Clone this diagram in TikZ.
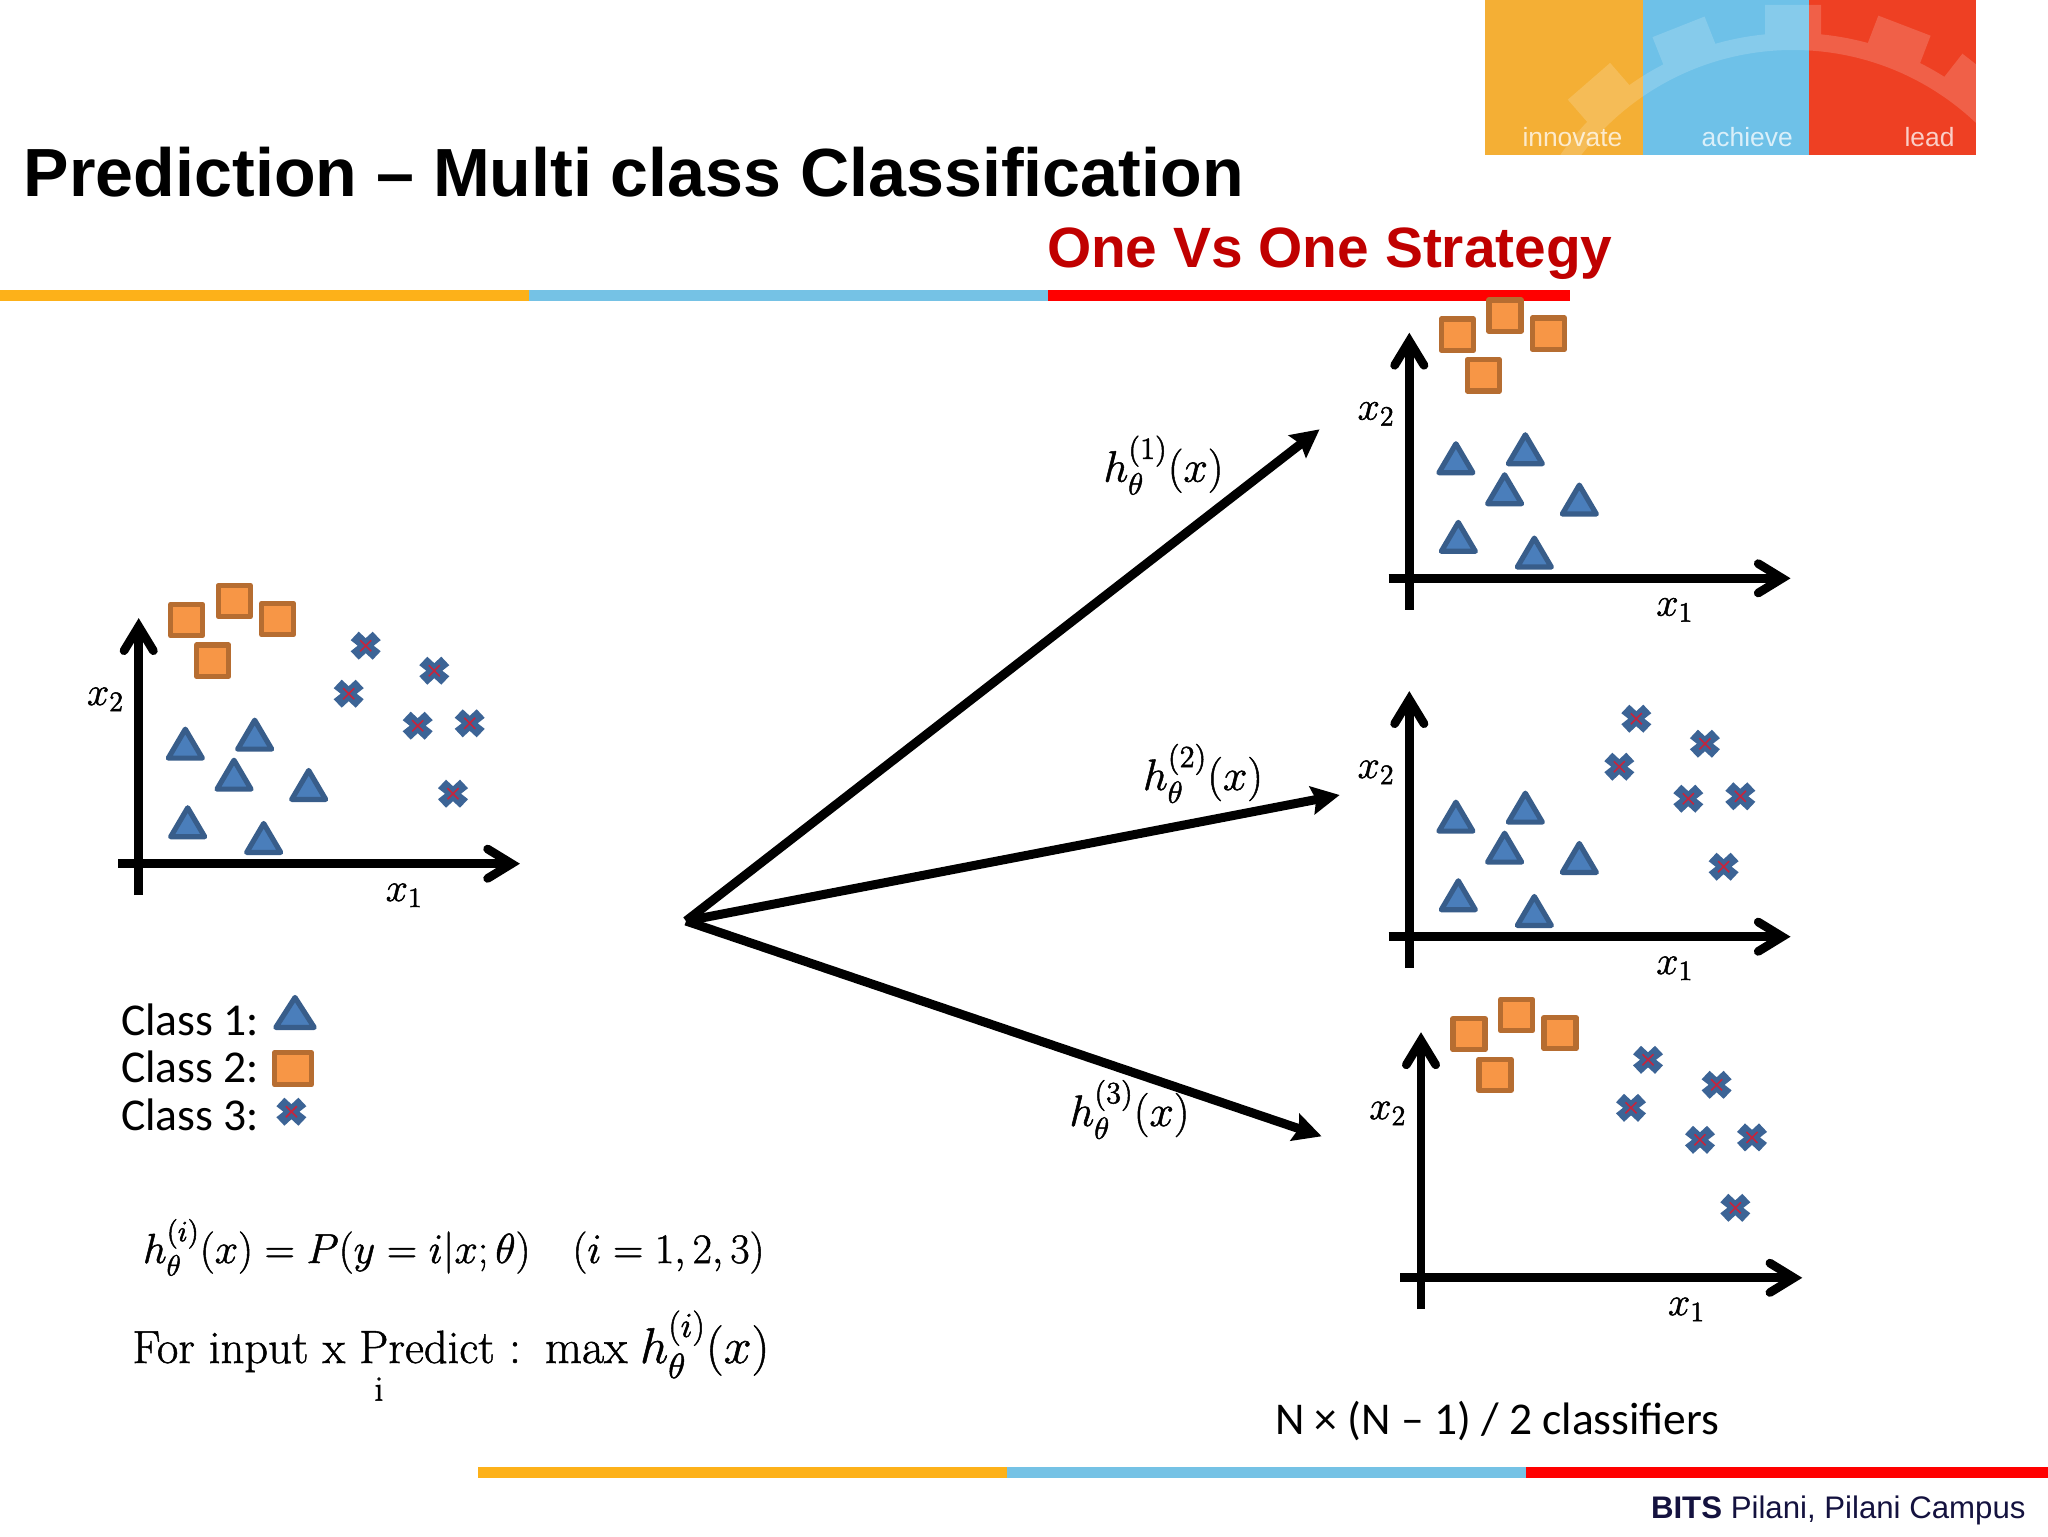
\RequirePackage{fix-cm}
\documentclass[tikz,border=0pt]{standalone}
\usepackage{fontspec}
\usepackage{amsmath}
\usetikzlibrary{arrows.meta}
\newfontfamily\arialf{Liberation Sans}
\newfontfamily\calibrif{Carlito}
\definecolor{barorange}{HTML}{FDB119}
\definecolor{barblue}{HTML}{75C2E5}
\definecolor{barred}{HTML}{FF0000}
\definecolor{logoorange}{HTML}{F4AF35}
\definecolor{logoblue}{HTML}{6EC1E8}
\definecolor{logored}{HTML}{EE4023}
\definecolor{trifill}{HTML}{4A7EBB}
\definecolor{tristroke}{HTML}{385D8A}
\definecolor{sqfill}{HTML}{F79646}
\definecolor{sqstroke}{HTML}{B66D31}
\definecolor{crossfill}{HTML}{3C6496}
\definecolor{crossmark}{HTML}{C6243C}
\definecolor{strategyred}{HTML}{C00000}
\definecolor{footnavy}{HTML}{14123F}
\newcommand{\heavy}[1]{\special{pdf:code q 2 Tr 0.25 w}#1\special{pdf:code Q}}
\tikzset{
  txt/.style={inner sep=0pt,outer sep=0pt,anchor=base west},
  axisline/.style={line width=4.35pt,black},
  axishead/.style={line width=4.35pt,black,line cap=round,line join=miter},
  bigarrow/.style={line width=4.5pt,black,-{Stealth[length=14pt,width=14pt,inset=2pt]}},
  trimark/.style={fill=trifill,draw=tristroke,line width=2.6pt,line join=round},
  sqmark/.style={fill=sqfill,draw=sqstroke,line width=2.7pt,line join=round},
  crossmarkshape/.style={fill=crossfill},
  crossline/.style={draw=crossmark,line width=.8pt},
  axislabel/.style={txt,font=\fontsize{20}{24}\selectfont},
  hlabel/.style={txt,font=\fontsize{22}{26}\selectfont},
  classtext/.style={txt,font=\calibrif\fontsize{22.8}{27}\selectfont},
  logotext/.style={txt,font=\arialf\fontsize{13.2}{15}\selectfont,text=white,text opacity=.75},
}
\newcommand{\tria}[2]{\begin{scope}[shift={(#1,#2)}]
  \draw[trimark] (0,-31.5) -- (17,-2.6) -- (-17,-2.6) -- cycle;\end{scope}}
\newcommand{\squa}[2]{\begin{scope}[shift={(#1,#2)}]
  \draw[sqmark] (-16,-15.6) rectangle (16,15.6);\end{scope}}
\newcommand{\cros}[2]{\begin{scope}[shift={(#1,#2)}]
  \fill[crossmarkshape] (0,-7.5) -- (7,-14) -- (15,-5.5) -- (8,0) -- (15,5.5) -- (7,14) -- (0,7.5)
     -- (-7,14) -- (-15,5.5) -- (-8,0) -- (-15,-5.5) -- (-7,-14) -- cycle;
  \draw[crossline] (-5.5,-5.5) -- (5.5,5.5) (-5.5,5.5) -- (5.5,-5.5);\end{scope}}
\newcommand{\axesgroup}[1]{%
  \coordinate (#1vb) at (0,31.3); \coordinate (#1vt) at (0,-237.2);
  \coordinate (#1vl) at (-14.7,-213); \coordinate (#1vr) at (14.7,-213);
  \coordinate (#1hb) at (-20.7,0); \coordinate (#1ht) at (372.9,0);
  \coordinate (#1hu) at (348.9,-14.7); \coordinate (#1hd) at (348.9,14.7);
  \draw[axisline] (#1vb) -- (#1vt);
  \draw[axishead] (#1vl) -- (#1vt) -- (#1vr);
  \draw[axisline] (#1hb) -- (#1ht);
  \draw[axishead] (#1hu) -- (#1ht) -- (#1hd);
  \node[axislabel] (#1xb) at (247,37.3) {\heavy{$x_1$}};
  \node[axislabel] (#1xa) at (-51.7,-158.7) {\heavy{$x_2$}};}
\newcommand{\trigroup}{%
  \tria{46.6}{-103}\tria{116}{-112}\tria{95.3}{-72}\tria{170}{-61.7}\tria{49}{-24.4}\tria{125}{-8.7}}
\newcommand{\squgroup}{%
  \squa{48}{-243.7}\squa{95.6}{-262.7}\squa{139}{-244.7}\squa{74}{-203}}
\newcommand{\crogroup}{%
  \cros{227}{-218}\cros{210}{-170}\cros{295.6}{-193}\cros{279}{-138}\cros{331}{-140.4}\cros{314.3}{-70}}
\newcommand{\hth}[1]{\heavy{$h_\theta^{(#1)}(x)$}}
\begin{document}
\begin{tikzpicture}[x=.5pt,y=-.5pt]
\useasboundingbox (0,0) rectangle (2048,1536);
\fill[white] (0,0) rectangle (2048,1536);
% logo
\begin{scope}
  \clip (1484.7,0) rectangle (1976.3,155);
  \fill[logoorange] (1484.7,0) rectangle (1642.6,155);
  \fill[logoblue] (1642.6,0) rectangle (1809.3,155);
  \fill[logored] (1809.3,0) rectangle (1976.3,155);
  \begin{scope}[transparency group,opacity=.17]
    \fill[white,even odd rule] (1793,316) circle[radius=283] (1793,316) circle[radius=266];
    \foreach \a in {41,21.6,0,-21,-38}
      \fill[white,rotate around={\a:(1793,316)}] (1765,5) rectangle (1821,35);
  \end{scope}
\end{scope}
\node[logotext] (logoa) at (1522.5,146) {innovate};
\node[logotext] (logob) at (1701.7,146) {achieve};
\node[logotext] (logoc) at (1904.6,146) {lead};
% rules
\fill[barorange] (0,290) rectangle (529,300.7);
\fill[barblue] (529,290) rectangle (1048,300.7);
\fill[barred] (1048,290) rectangle (1570,300.7);
\fill[barorange] (478,1467) rectangle (1007,1478);
\fill[barblue] (1007,1467) rectangle (1525.5,1478);
\fill[barred] (1525.5,1467) rectangle (2048,1478);
% titles
\node[txt,font=\arialf\bfseries\fontsize{34.08}{40}\selectfont] (title) at (24,196) {Prediction – Multi class Classification};
\node[txt,font=\arialf\bfseries\fontsize{28.43}{34}\selectfont,text=strategyred] (strategy) at (1047,267) {One Vs One Strategy};
\node[txt,font=\arialf\fontsize{15.6}{18}\selectfont,text=footnavy] (foot) at (1651,1518) {\textbf{BITS} Pilani, Pilani Campus};
% panels
\begin{scope}[shift={(138.7,863.7)}]
  \squgroup\trigroup\crogroup\axesgroup{pa}
\end{scope}
\begin{scope}[shift={(1409.3,578.3)}]
  \squgroup\trigroup\axesgroup{pb}
\end{scope}
\begin{scope}[shift={(1409.3,936.7)}]
  \trigroup\crogroup\axesgroup{pc}
\end{scope}
\begin{scope}[shift={(1421,1277.8)}]
  \squgroup\crogroup\axesgroup{pd}
\end{scope}
% big arrows
\coordinate (src) at (686,921);
\coordinate (tipa) at (1319.6,429.3);
\coordinate (tipb) at (1339.7,795);
\coordinate (tipc) at (1321.6,1136.3);
\draw[bigarrow] (src) -- (tipa);
\draw[bigarrow] (src) -- (tipb);
\draw[bigarrow] (src) -- (tipc);
\node[hlabel] (ha) at (1103.5,481.7) {\hth{1}};
\node[hlabel] (hb) at (1143,790) {\hth{2}};
\node[hlabel] (hc) at (1069.5,1126) {\hth{3}};
% legend
\node[classtext] (ca) at (121,1035) {Class 1:};
\node[classtext] (cb) at (121,1082.7) {Class 2:};
\node[classtext] (cc) at (121,1130.7) {Class 3:};
\begin{scope}[shift={(295,1030)},xscale=1.13]
  \draw[trimark] (0,-32.5) -- (17,-2.6) -- (-17,-2.6) -- cycle;
\end{scope}
\begin{scope}[shift={(293,1068.7)}]
  \draw[sqmark] (-18.3,-16) rectangle (18.3,16);
\end{scope}
\cros{291.4}{1111.7}
% formulas
\node[txt,font=\fontsize{21}{25}\selectfont] (fa) at (143,1263) {\heavy{$h_\theta^{(i)}(x)=P(y=i|x;\theta)\quad(i=1,2,3)$}};
\node[txt,font=\fontsize{23.3}{28}\selectfont] (fb) at (132.5,1363) {\heavy{For input x Predict}};
\node[txt,font=\fontsize{24}{28}\selectfont] (fc) at (509,1363) {\heavy{:}};
\node[txt,font=\fontsize{24}{28}\selectfont] (fd) at (545,1363) {\heavy{max}};
\node[txt,font=\fontsize{25.1}{30}\selectfont] (fe) at (640,1363) {\hth{i}};
\node[txt,font=\fontsize{18}{21}\selectfont] (ff) at (374.5,1400.7) {\heavy{i}};
\node[classtext,font=\calibrif\fontsize{22.75}{27}\selectfont] (clf) at (1275,1434) {N × (N – 1) / 2 classifiers};
\end{tikzpicture}
\end{document}
